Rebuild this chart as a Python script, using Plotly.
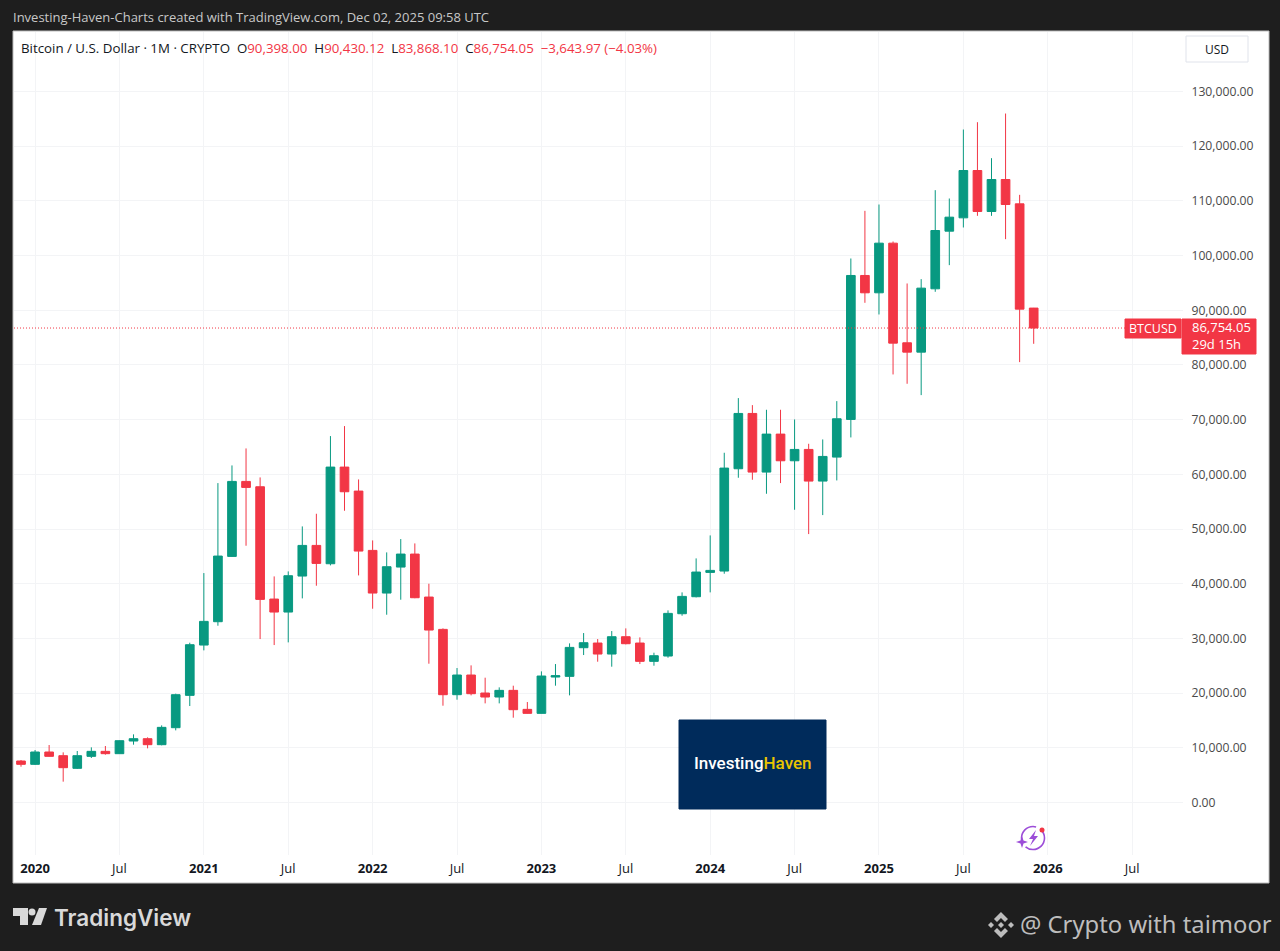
import plotly.graph_objects as go

W, H = 1280, 951
PLOT_L, PLOT_R, PLOT_T, PLOT_B = 14, 1183, 32, 855

UP = "#089981"
DOWN = "#F23645"
GRID = "#F3F4F6"
DARK = "#1E1E1E"

months = [
    "2019-12", "2020-01", "2020-02", "2020-03", "2020-04", "2020-05", "2020-06", "2020-07", "2020-08", "2020-09", "2020-10", "2020-11", "2020-12",
    "2021-01", "2021-02", "2021-03", "2021-04", "2021-05", "2021-06", "2021-07", "2021-08", "2021-09", "2021-10", "2021-11", "2021-12",
    "2022-01", "2022-02", "2022-03", "2022-04", "2022-05", "2022-06", "2022-07", "2022-08", "2022-09", "2022-10", "2022-11", "2022-12",
    "2023-01", "2023-02", "2023-03", "2023-04", "2023-05", "2023-06", "2023-07", "2023-08", "2023-09", "2023-10", "2023-11", "2023-12",
    "2024-01", "2024-02", "2024-03", "2024-04", "2024-05", "2024-06", "2024-07", "2024-08", "2024-09", "2024-10", "2024-11", "2024-12",
    "2025-01", "2025-02", "2025-03", "2025-04", "2025-05", "2025-06", "2025-07", "2025-08", "2025-09", "2025-10", "2025-11", "2025-12",
]
opens = [
    7586, 6977, 9231, 8561, 6245, 8439, 9353, 8926, 11241, 11668, 10571, 13679, 19589,
    28789, 33055, 44997, 58706, 57731, 37198, 34822, 41402, 47007, 43656, 61326, 56939,
    46094, 38294, 43047, 45423, 37563, 31653, 19711, 23306, 20016, 19284, 20503, 17030,
    16299, 22940, 23062, 28302, 29155, 27144, 30313, 29155, 25804, 26779, 34517, 37624,
    42072, 42316, 61021, 71136, 60412, 67358, 62483, 64556, 58767, 63153, 70039, 96360,
    93192, 102271, 84053, 82347, 93925, 104465, 106902, 115554, 108060, 113909, 109461, 90398,
]
highs = [
    7769, 9597, 10510, 9170, 9414, 10084, 10328, 11363, 12460, 11912, 14105, 19894, 29216,
    41950, 58400, 61631, 64738, 59438, 41341, 42255, 50480, 52796, 66996, 68825, 59071,
    47921, 45728, 48165, 47373, 40000, 31836, 24585, 25073, 22818, 21051, 21356, 18370,
    23976, 25317, 29094, 30983, 29886, 31348, 31836, 30191, 27388, 35126, 38416, 44631,
    48835, 63946, 73943, 72659, 71806, 71806, 70039, 65591, 66383, 73390, 99468, 108181,
    109339, 102576, 94898, 95691, 111959, 110436, 123047, 124389, 117808, 125973, 111106, 90430.12,
]
lows = [
    6550, 6855, 8378, 3808, 6123, 8134, 8743, 8900, 10571, 9901, 10449, 13191, 17639,
    27815, 32323, 44900, 46947, 29886, 28789, 29277, 37320, 39635, 43352, 53344, 41524,
    35431, 34334, 37076, 37350, 25377, 17700, 18797, 19589, 18127, 18127, 15507, 16250,
    16280, 21356, 19589, 26961, 25743, 24829, 28911, 25317, 25012, 26474, 34151, 37500,
    38416, 41828, 59376, 59010, 56451, 58401, 53527, 49079, 52552, 58888, 66749, 91365,
    89232, 78265, 76559, 74486, 93375, 98250, 105135, 107267, 107267, 103002, 80519, 83868.10,
]
closes = [
    6977, 9231, 8439, 6367, 8561, 9353, 8926, 11300, 11668, 10571, 13740, 19711, 28850,
    33115, 45058, 58706, 57609, 37137, 34822, 41463, 47007, 43717, 61326, 56817, 45971,
    38294, 43108, 45423, 37441, 31531, 19711, 23306, 19894, 19284, 20503, 16969, 16299,
    23123, 23184, 28363, 29216, 27144, 30313, 29033, 25804, 26840, 34578, 37685, 42133,
    42438, 61143, 71136, 60412, 67358, 62483, 64556, 58767, 63275, 70161, 96360, 93192,
    102271, 83992, 82347, 94046, 104586, 107024, 115554, 108060, 113909, 109339, 90207, 86754.05,
]

price_ticks = list(range(0, 130001, 10000))
time_tick_pos = [1, 7, 13, 19, 25, 31, 37, 43, 49, 55, 61, 67, 73, 79]
time_tick_text = ["<b>2020</b>", "Jul", "<b>2021</b>", "Jul", "<b>2022</b>", "Jul", "<b>2023</b>", "Jul",
                  "<b>2024</b>", "Jul", "<b>2025</b>", "Jul", "<b>2026</b>", "Jul"]

last_close = closes[-1]


# pixel position on the page -> paper coords of the plot area
def fx(x):
    return (x - PLOT_L) / (PLOT_R - PLOT_L)

def fy(y):
    return (PLOT_B - y) / (PLOT_B - PLOT_T)

def poly(points):
    return "M " + " L ".join(f"{fx(x):.5f},{fy(y):.5f}" for x, y in points) + " Z"

def rect(x0, y0, x1, y1, fill, line=None, layer="below"):
    return dict(type="rect", xref="paper", yref="paper", x0=fx(x0), x1=fx(x1), y0=fy(y0), y1=fy(y1),
                fillcolor=fill, line=dict(color=line or fill, width=1), layer=layer)

def shape_poly(points, fill):
    return dict(type="path", xref="paper", yref="paper", path=poly(points), fillcolor=fill,
                line=dict(width=0), layer="above")

def circle(cx, cy, r, fill, line=None, dash=None, width=1.5):
    return dict(type="circle", xref="paper", yref="paper", x0=fx(cx - r), x1=fx(cx + r), y0=fy(cy + r), y1=fy(cy - r),
                fillcolor=fill, line=dict(color=line or fill, width=width, dash=dash or "solid"), layer="above")

def label(x, y, text, size=12, color="#131722", anchor="left", family="Open Sans", weight=400, **kw):
    return dict(xref="paper", yref="paper", x=fx(x), y=fy(y), text=text, showarrow=False,
                xanchor=anchor, yanchor="middle", font=dict(family=family, size=size, color=color, weight=weight), **kw)

def red(s):
    return f'<span style="color:{DOWN}">{s}</span>'


fig = go.Figure()
fig.add_trace(go.Candlestick(
    x=list(range(len(months))),
    open=opens, high=highs, low=lows, close=closes,
    text=months,
    increasing=dict(line=dict(color=UP, width=1), fillcolor=UP),
    decreasing=dict(line=dict(color=DOWN, width=1), fillcolor=DOWN),
    whiskerwidth=0,
    hoverinfo="skip",
))

shapes = [
    rect(13, 31, 1269, 883, "#FFFFFF", "#BDBDBD"),
    rect(679, 720, 826, 809, "#002B5B", layer="above"),
    # last price line
    dict(type="line", xref="paper", yref="y", x0=0, x1=fx(1125), y0=last_close, y1=last_close,
         line=dict(color=DOWN, width=1, dash="1px,2px"), layer="above"),
    rect(1182, 319, 1256, 354, DOWN, layer="above"),
    rect(1125, 319, 1181, 338, DOWN, layer="above"),
    rect(1186, 36, 1248, 62, "#FFFFFF", "#E0E3EB", layer="above"),
    # TradingView mark
    shape_poly([(13, 908), (28, 908), (28, 925), (20, 925), (20, 916), (13, 916)], "#D9D9D9"),
    circle(32, 912, 3.5, "#D9D9D9", width=0),
    shape_poly([(39, 908), (47, 908), (41, 925), (32, 925)], "#D9D9D9"),
    # Binance mark
    shape_poly([(1001, 912), (1008, 919), (1005, 922), (1001, 918), (997, 922), (994, 919)], "#BDBDBD"),
    shape_poly([(1001, 938), (1008, 931), (1005, 928), (1001, 932), (997, 928), (994, 931)], "#BDBDBD"),
    shape_poly([(1001, 922), (1004, 925), (1001, 928), (998, 925)], "#BDBDBD"),
    shape_poly([(991, 922), (994, 925), (991, 928), (988, 925)], "#BDBDBD"),
    shape_poly([(1011, 922), (1014, 925), (1011, 928), (1008, 925)], "#BDBDBD"),
    # purple icon
    circle(1033, 838, 11.5, "rgba(0,0,0,0)", "#9C4DD8", dash="26px,5px", width=1.6),
    shape_poly([(1036, 830), (1029, 839), (1033, 839), (1030, 846), (1038, 836), (1034, 836)], "#9C4DD8"),
    shape_poly([(1022, 836), (1023.5, 840.5), (1028, 842), (1023.5, 843.5), (1022, 848), (1020.5, 843.5), (1016, 842), (1020.5, 840.5)], "#9C4DD8"),
    circle(1042, 830, 2.5, DOWN, width=0),
]

ohlc_text = (
    "Bitcoin / U.S. Dollar · 1M · CRYPTO  O" + red("90,398.00") + "  H" + red("90,430.12")
    + "  L" + red("83,868.10") + "  C" + red("86,754.05") + "  " + red("−3,643.97 (−4.03%)")
)

annotations = [
    label(11, 17, "Investing-Haven-Charts created with TradingView.com, Dec 02, 2025 09:58 UTC", size=13, color="#C8C8C8"),
    label(19, 48, ohlc_text, size=13.3),
    label(1217, 49, "USD", size=12, anchor="center"),
    label(1153, 328.5, "BTCUSD", size=12.5, color="#FFFFFF", anchor="center"),
    label(1190, 327, "86,754.05", size=13, color="#FFFFFF"),
    label(1190, 344, "29d 15h", size=13, color="#FFFFFF"),
    label(752.5, 763, 'Investing<span style="color:#E8C400">Haven</span>', size=17, color="#FFFFFF", anchor="center", family="Roboto", weight=500),
    label(52, 917, "TradingView", size=22.5, color="#D9D9D9", family="Inter", weight=600),
    label(1018, 924, "@ Crypto with taimoor", size=23.8, color="#BDBDBD", family="Noto Sans"),
]

# px per price unit is fixed by the axis: 0 sits at y=802.5, 130,000 at y=91.5
per_px = 130000 / (802.5 - 91.5)
y_low = -(PLOT_B - 802.5) * per_px
y_high = (802.5 - PLOT_T) * per_px
bar_px = (1033.7 - 21) / (len(months) - 1)

fig.update_layout(
    width=W, height=H,
    margin=dict(l=PLOT_L, r=W - PLOT_R, t=PLOT_T, b=H - PLOT_B, autoexpand=False),
    paper_bgcolor=DARK,
    plot_bgcolor="#FFFFFF",
    showlegend=False,
    boxgap=0.12,
    shapes=shapes,
    annotations=annotations,
    font=dict(family="Open Sans", size=12, color="#131722"),
    xaxis=dict(
        range=[(PLOT_L - 21) / bar_px, (PLOT_R - 21) / bar_px],
        rangeslider=dict(visible=False),
        tickmode="array", tickvals=time_tick_pos, ticktext=time_tick_text,
        showgrid=True, gridcolor=GRID, gridwidth=1, zeroline=False, showline=False,
        ticks="outside", ticklen=1, tickcolor="rgba(0,0,0,0)",
        tickfont=dict(family="Open Sans", size=13, color="#131722"),
    ),
    yaxis=dict(
        side="right",
        range=[y_low, y_high],
        tickmode="array", tickvals=price_ticks,
        tickformat=",.2f",
        showgrid=True, gridcolor=GRID, gridwidth=1, zeroline=False, showline=False,
        ticks="outside", ticklen=5, tickcolor="rgba(0,0,0,0)",
        tickfont=dict(family="Open Sans", size=12.2, color="#4A4A4A"),
    ),
)

fig.write_html("out.html", config=dict(displayModeBar=False),
               post_script="document.body.style.margin='0';document.body.style.overflow='hidden';document.body.style.background='#1E1E1E';")
